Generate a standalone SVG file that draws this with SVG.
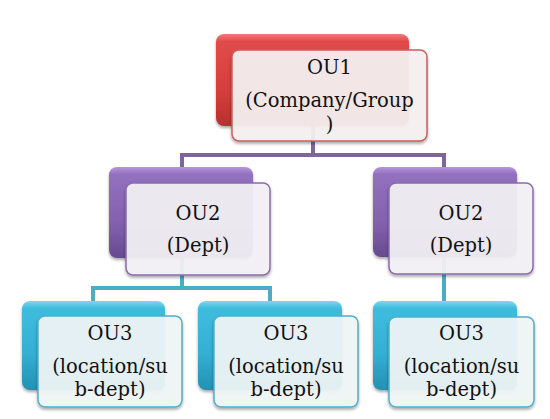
<svg xmlns="http://www.w3.org/2000/svg" width="550" height="419" viewBox="0 0 550 419">
<defs>
<linearGradient id="gRed" x1="0" y1="0" x2="0" y2="1">
<stop offset="0" stop-color="#ef7a78"/>
<stop offset="0.08" stop-color="#e04c4a"/>
<stop offset="0.6" stop-color="#d53f3d"/>
<stop offset="1" stop-color="#b8302e"/>
</linearGradient>
<linearGradient id="gPur" x1="0" y1="0" x2="0" y2="1">
<stop offset="0" stop-color="#b596dc"/>
<stop offset="0.08" stop-color="#9270be"/>
<stop offset="0.6" stop-color="#8462ae"/>
<stop offset="1" stop-color="#674a90"/>
</linearGradient>
<linearGradient id="gTeal" x1="0" y1="0" x2="0" y2="1">
<stop offset="0" stop-color="#7fd8ee"/>
<stop offset="0.08" stop-color="#3fbcde"/>
<stop offset="0.6" stop-color="#33afd3"/>
<stop offset="1" stop-color="#2490b2"/>
</linearGradient>
<filter id="sh" x="-10%" y="-10%" width="120%" height="130%">
<feGaussianBlur in="SourceAlpha" stdDeviation="1.5"/>
<feOffset dy="1.5"/>
<feComponentTransfer><feFuncA type="linear" slope="0.35"/></feComponentTransfer>
<feMerge><feMergeNode/><feMergeNode in="SourceGraphic"/></feMerge>
</filter>
</defs>
<style>
.back{filter:url(#sh)}
.front{stroke-width:1.5;fill-opacity:0.92;filter:url(#sh)}
.fr{fill:#f7f2f2;stroke:#c9605e}
.fp{fill:#f4f2f6;stroke:#8a6cae}
.ft{fill:#f1f6f7;stroke:#4eb0cc}
.t{font-family:"DejaVu Serif","Liberation Serif",serif;font-size:19.5px;fill:#111;text-anchor:middle}
.cp{stroke:#8064a2;stroke-width:4;fill:none}
.ct{stroke:#4bacc6;stroke-width:4;fill:none}
</style>
<rect width="550" height="419" fill="#ffffff"/>
<g id="connectors">
<path class="cp" d="M313,100 V155 M180,155 H446 M182,155 V170 M444,155 V170"/>
<path class="ct" d="M182,230 V288 M93,288 H272 M93,286 V304 M270,286 V304 M444,230 V304"/>
</g>
<g id="ou1">
<rect class="back" x="216" y="34" width="193" height="92" rx="8" fill="url(#gRed)"/>
<rect class="front fr" x="232" y="50" width="195" height="91" rx="7"/>
<text class="t" x="329.5" y="74">OU1</text>
<text class="t" x="329.5" y="107">(Company/Group</text>
<text class="t" x="329.5" y="130.5">)</text>
</g>
<g id="ou2-left">
<rect class="back" x="109" y="167" width="144" height="91" rx="8" fill="url(#gPur)"/>
<rect class="front fp" x="126" y="183" width="144" height="92" rx="7"/>
<text class="t" x="198" y="220">OU2</text>
<text class="t" x="198" y="252">(Dept)</text>
</g>
<g id="ou2-right">
<rect class="back" x="373" y="167" width="144" height="90" rx="8" fill="url(#gPur)"/>
<rect class="front fp" x="389" y="183" width="144" height="91" rx="7"/>
<text class="t" x="461" y="220">OU2</text>
<text class="t" x="461" y="252">(Dept)</text>
</g>
<g id="ou3-a">
<rect class="back" x="22" y="301" width="143" height="89" rx="8" fill="url(#gTeal)"/>
<rect class="front ft" x="38" y="316" width="144" height="91" rx="7"/>
<text class="t" x="110" y="340">OU3</text>
<text class="t" x="110" y="373">(location/su</text>
<text class="t" x="110" y="396">b-dept)</text>
</g>
<g id="ou3-b">
<rect class="back" x="198" y="301" width="144" height="89" rx="8" fill="url(#gTeal)"/>
<rect class="front ft" x="214" y="316" width="144" height="91" rx="7"/>
<text class="t" x="286" y="340">OU3</text>
<text class="t" x="286" y="373">(location/su</text>
<text class="t" x="286" y="396">b-dept)</text>
</g>
<g id="ou3-c">
<rect class="back" x="373" y="301" width="144" height="89" rx="8" fill="url(#gTeal)"/>
<rect class="front ft" x="389" y="317" width="145" height="90" rx="7"/>
<text class="t" x="461.5" y="340">OU3</text>
<text class="t" x="461.5" y="373">(location/su</text>
<text class="t" x="461.5" y="396">b-dept)</text>
</g>
</svg>
